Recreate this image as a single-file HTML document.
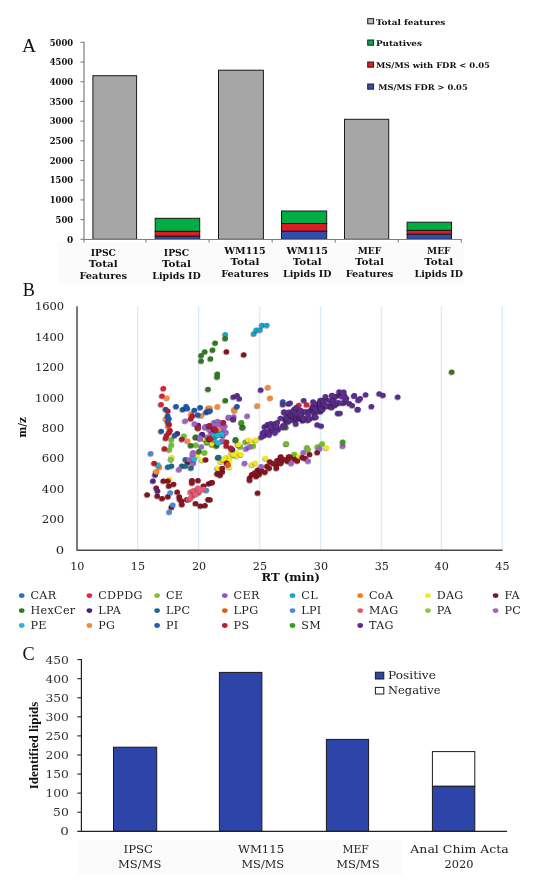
<!DOCTYPE html>
<html lang="en"><head><meta charset="utf-8"><title>Figure</title>
<style>
html,body{margin:0;padding:0;background:#fff;}
body{width:554px;height:881px;overflow:hidden;font-family:'DejaVu Serif','Liberation Serif',serif;}
svg{display:block;}
text{white-space:pre;}
.p{filter:url(#sh);}
</style></head><body>
<svg width="554" height="881" viewBox="0 0 554 881">
<rect width="554" height="881" fill="#fff"/>
<g id="panelA">
<rect x="58" y="242" width="406" height="42.2" fill="#fbfbfb"/>
<text x="22.1" y="51.6" font-size="18.2" font-family="'Liberation Serif','DejaVu Serif',serif" text-anchor="start" fill="#111" textLength="14.1" lengthAdjust="spacingAndGlyphs" >A</text>
<rect x="92.9" y="75.7" width="43.7" height="163.6" fill="#a6a6a6" stroke="#1a1a1a" stroke-width="1"/>
<rect x="155.2" y="218.3" width="44.5" height="13.1" fill="#00ad43" stroke="#1a1a1a" stroke-width="1"/>
<rect x="155.2" y="231.4" width="44.5" height="4.9" fill="#e01a22" stroke="#1a1a1a" stroke-width="1"/>
<rect x="155.2" y="236.3" width="44.5" height="3.0" fill="#324cad" stroke="#1a1a1a" stroke-width="1"/>
<rect x="218.5" y="70.2" width="44.9" height="169.1" fill="#a6a6a6" stroke="#1a1a1a" stroke-width="1"/>
<rect x="281.5" y="211.0" width="45.2" height="12.5" fill="#00ad43" stroke="#1a1a1a" stroke-width="1"/>
<rect x="281.5" y="223.5" width="45.2" height="7.8" fill="#e01a22" stroke="#1a1a1a" stroke-width="1"/>
<rect x="281.5" y="231.3" width="45.2" height="8.0" fill="#324cad" stroke="#1a1a1a" stroke-width="1"/>
<rect x="344.5" y="119.3" width="44.2" height="120.0" fill="#a6a6a6" stroke="#1a1a1a" stroke-width="1"/>
<rect x="407.1" y="222.2" width="44.4" height="8.2" fill="#00ad43" stroke="#1a1a1a" stroke-width="1"/>
<rect x="407.1" y="230.4" width="44.4" height="3.9" fill="#e01a22" stroke="#1a1a1a" stroke-width="1"/>
<rect x="407.1" y="234.3" width="44.4" height="5.0" fill="#324cad" stroke="#1a1a1a" stroke-width="1"/>
<path d="M84.0 41.8V239.5H461.8" fill="none" stroke="#808080" stroke-width="1.2"/>
<path d="M80.4 42.30H84.0" stroke="#808080" stroke-width="1.1"/>
<text x="73.1" y="45.5" font-size="8.4" font-family="'DejaVu Serif','Liberation Serif',serif" text-anchor="end" fill="#111" font-weight="bold" textLength="23.3" lengthAdjust="spacingAndGlyphs" >5000</text>
<path d="M80.4 62.00H84.0" stroke="#808080" stroke-width="1.1"/>
<text x="73.1" y="65.2" font-size="8.4" font-family="'DejaVu Serif','Liberation Serif',serif" text-anchor="end" fill="#111" font-weight="bold" textLength="23.3" lengthAdjust="spacingAndGlyphs" >4500</text>
<path d="M80.4 81.70H84.0" stroke="#808080" stroke-width="1.1"/>
<text x="73.1" y="84.9" font-size="8.4" font-family="'DejaVu Serif','Liberation Serif',serif" text-anchor="end" fill="#111" font-weight="bold" textLength="23.3" lengthAdjust="spacingAndGlyphs" >4000</text>
<path d="M80.4 101.40H84.0" stroke="#808080" stroke-width="1.1"/>
<text x="73.1" y="104.6" font-size="8.4" font-family="'DejaVu Serif','Liberation Serif',serif" text-anchor="end" fill="#111" font-weight="bold" textLength="23.3" lengthAdjust="spacingAndGlyphs" >3500</text>
<path d="M80.4 121.10H84.0" stroke="#808080" stroke-width="1.1"/>
<text x="73.1" y="124.3" font-size="8.4" font-family="'DejaVu Serif','Liberation Serif',serif" text-anchor="end" fill="#111" font-weight="bold" textLength="23.3" lengthAdjust="spacingAndGlyphs" >3000</text>
<path d="M80.4 140.80H84.0" stroke="#808080" stroke-width="1.1"/>
<text x="73.1" y="144.0" font-size="8.4" font-family="'DejaVu Serif','Liberation Serif',serif" text-anchor="end" fill="#111" font-weight="bold" textLength="23.3" lengthAdjust="spacingAndGlyphs" >2500</text>
<path d="M80.4 160.50H84.0" stroke="#808080" stroke-width="1.1"/>
<text x="73.1" y="163.7" font-size="8.4" font-family="'DejaVu Serif','Liberation Serif',serif" text-anchor="end" fill="#111" font-weight="bold" textLength="23.3" lengthAdjust="spacingAndGlyphs" >2000</text>
<path d="M80.4 180.20H84.0" stroke="#808080" stroke-width="1.1"/>
<text x="73.1" y="183.4" font-size="8.4" font-family="'DejaVu Serif','Liberation Serif',serif" text-anchor="end" fill="#111" font-weight="bold" textLength="23.3" lengthAdjust="spacingAndGlyphs" >1500</text>
<path d="M80.4 199.90H84.0" stroke="#808080" stroke-width="1.1"/>
<text x="73.1" y="203.1" font-size="8.4" font-family="'DejaVu Serif','Liberation Serif',serif" text-anchor="end" fill="#111" font-weight="bold" textLength="23.3" lengthAdjust="spacingAndGlyphs" >1000</text>
<path d="M80.4 219.60H84.0" stroke="#808080" stroke-width="1.1"/>
<text x="73.1" y="222.8" font-size="8.4" font-family="'DejaVu Serif','Liberation Serif',serif" text-anchor="end" fill="#111" font-weight="bold" textLength="17.5" lengthAdjust="spacingAndGlyphs" >500</text>
<path d="M80.4 239.30H84.0" stroke="#808080" stroke-width="1.1"/>
<text x="73.1" y="242.5" font-size="8.4" font-family="'DejaVu Serif','Liberation Serif',serif" text-anchor="end" fill="#111" font-weight="bold" textLength="6.2" lengthAdjust="spacingAndGlyphs" >0</text>
<path d="M84.00 239.3V242.5" stroke="#808080" stroke-width="1.1"/>
<path d="M146.05 239.3V242.5" stroke="#808080" stroke-width="1.1"/>
<path d="M209.10 239.3V242.5" stroke="#808080" stroke-width="1.1"/>
<path d="M272.15 239.3V242.5" stroke="#808080" stroke-width="1.1"/>
<path d="M335.20 239.3V242.5" stroke="#808080" stroke-width="1.1"/>
<path d="M398.25 239.3V242.5" stroke="#808080" stroke-width="1.1"/>
<path d="M461.30 239.3V242.5" stroke="#808080" stroke-width="1.1"/>
<text x="103.3" y="255.8" font-size="9.4" font-family="'DejaVu Serif','Liberation Serif',serif" text-anchor="middle" fill="#111" font-weight="bold" textLength="25.3" lengthAdjust="spacingAndGlyphs" >IPSC</text>
<text x="103.3" y="267.3" font-size="9.4" font-family="'DejaVu Serif','Liberation Serif',serif" text-anchor="middle" fill="#111" font-weight="bold" textLength="28.9" lengthAdjust="spacingAndGlyphs" >Total</text>
<text x="103.3" y="278.8" font-size="9.4" font-family="'DejaVu Serif','Liberation Serif',serif" text-anchor="middle" fill="#111" font-weight="bold" textLength="47.7" lengthAdjust="spacingAndGlyphs" >Features</text>
<text x="176.5" y="255.8" font-size="9.4" font-family="'DejaVu Serif','Liberation Serif',serif" text-anchor="middle" fill="#111" font-weight="bold" textLength="25.3" lengthAdjust="spacingAndGlyphs" >IPSC</text>
<text x="176.5" y="267.3" font-size="9.4" font-family="'DejaVu Serif','Liberation Serif',serif" text-anchor="middle" fill="#111" font-weight="bold" textLength="28.9" lengthAdjust="spacingAndGlyphs" >Total</text>
<text x="176.5" y="278.8" font-size="9.4" font-family="'DejaVu Serif','Liberation Serif',serif" text-anchor="middle" fill="#111" font-weight="bold" textLength="48.5" lengthAdjust="spacingAndGlyphs" >Lipids ID</text>
<text x="245.0" y="253.5" font-size="9.4" font-family="'DejaVu Serif','Liberation Serif',serif" text-anchor="middle" fill="#111" font-weight="bold" textLength="41.5" lengthAdjust="spacingAndGlyphs" >WM115</text>
<text x="245.0" y="265.1" font-size="9.4" font-family="'DejaVu Serif','Liberation Serif',serif" text-anchor="middle" fill="#111" font-weight="bold" textLength="28.9" lengthAdjust="spacingAndGlyphs" >Total</text>
<text x="245.0" y="276.8" font-size="9.4" font-family="'DejaVu Serif','Liberation Serif',serif" text-anchor="middle" fill="#111" font-weight="bold" textLength="47.7" lengthAdjust="spacingAndGlyphs" >Features</text>
<text x="307.3" y="253.5" font-size="9.4" font-family="'DejaVu Serif','Liberation Serif',serif" text-anchor="middle" fill="#111" font-weight="bold" textLength="41.5" lengthAdjust="spacingAndGlyphs" >WM115</text>
<text x="307.3" y="265.1" font-size="9.4" font-family="'DejaVu Serif','Liberation Serif',serif" text-anchor="middle" fill="#111" font-weight="bold" textLength="28.9" lengthAdjust="spacingAndGlyphs" >Total</text>
<text x="307.3" y="276.8" font-size="9.4" font-family="'DejaVu Serif','Liberation Serif',serif" text-anchor="middle" fill="#111" font-weight="bold" textLength="48.5" lengthAdjust="spacingAndGlyphs" >Lipids ID</text>
<text x="369.5" y="253.5" font-size="9.4" font-family="'DejaVu Serif','Liberation Serif',serif" text-anchor="middle" fill="#111" font-weight="bold" textLength="23.5" lengthAdjust="spacingAndGlyphs" >MEF</text>
<text x="369.5" y="265.1" font-size="9.4" font-family="'DejaVu Serif','Liberation Serif',serif" text-anchor="middle" fill="#111" font-weight="bold" textLength="28.9" lengthAdjust="spacingAndGlyphs" >Total</text>
<text x="369.5" y="276.8" font-size="9.4" font-family="'DejaVu Serif','Liberation Serif',serif" text-anchor="middle" fill="#111" font-weight="bold" textLength="47.7" lengthAdjust="spacingAndGlyphs" >Features</text>
<text x="438.8" y="253.5" font-size="9.4" font-family="'DejaVu Serif','Liberation Serif',serif" text-anchor="middle" fill="#111" font-weight="bold" textLength="23.5" lengthAdjust="spacingAndGlyphs" >MEF</text>
<text x="438.8" y="265.1" font-size="9.4" font-family="'DejaVu Serif','Liberation Serif',serif" text-anchor="middle" fill="#111" font-weight="bold" textLength="28.9" lengthAdjust="spacingAndGlyphs" >Total</text>
<text x="438.8" y="276.8" font-size="9.4" font-family="'DejaVu Serif','Liberation Serif',serif" text-anchor="middle" fill="#111" font-weight="bold" textLength="48.5" lengthAdjust="spacingAndGlyphs" >Lipids ID</text>
<rect x="367.7" y="18.6" width="5.9" height="5.2" fill="#bdb8c2" stroke="#222" stroke-width="1"/>
<text x="375.9" y="24.5" font-size="7.9" font-family="'DejaVu Serif','Liberation Serif',serif" text-anchor="start" fill="#111" font-weight="bold" textLength="69.5" lengthAdjust="spacingAndGlyphs" >Total features</text>
<rect x="367.7" y="40.0" width="5.9" height="5.2" fill="#00ad43" stroke="#222" stroke-width="1"/>
<text x="375.9" y="45.9" font-size="7.9" font-family="'DejaVu Serif','Liberation Serif',serif" text-anchor="start" fill="#111" font-weight="bold" textLength="46.0" lengthAdjust="spacingAndGlyphs" >Putatives</text>
<rect x="367.7" y="62.0" width="5.9" height="5.2" fill="#e01a22" stroke="#222" stroke-width="1"/>
<text x="375.9" y="67.9" font-size="7.9" font-family="'DejaVu Serif','Liberation Serif',serif" text-anchor="start" fill="#111" font-weight="bold" textLength="114.0" lengthAdjust="spacingAndGlyphs" >MS/MS with FDR &lt; 0.05</text>
<rect x="367.7" y="84.0" width="5.9" height="5.2" fill="#324cad" stroke="#222" stroke-width="1"/>
<text x="378.2" y="89.9" font-size="7.9" font-family="'DejaVu Serif','Liberation Serif',serif" text-anchor="start" fill="#111" font-weight="bold" textLength="89.5" lengthAdjust="spacingAndGlyphs" >MS/MS FDR &gt; 0.05</text>
</g>
<g id="panelB">
<text x="22.7" y="295.8" font-size="18.2" font-family="'Liberation Serif','DejaVu Serif',serif" text-anchor="start" fill="#111" >B</text>
<path d="M137.6 306.3V550" stroke="#d9ecf9" stroke-width="1.4"/>
<path d="M198.7 306.3V550" stroke="#d9ecf9" stroke-width="1.4"/>
<path d="M259.6 306.3V550" stroke="#d9ecf9" stroke-width="1.4"/>
<path d="M320.6 306.3V550" stroke="#d9ecf9" stroke-width="1.4"/>
<path d="M381.5 306.3V550" stroke="#d9ecf9" stroke-width="1.4"/>
<path d="M441.4 306.3V550" stroke="#d9ecf9" stroke-width="1.4"/>
<path d="M502.1 306.3V550" stroke="#d9ecf9" stroke-width="1.4"/>
<path d="M77.0 306.3V550.15H502.6" fill="none" stroke="#484848" stroke-width="1.45" stroke-linejoin="round"/>
<text x="64.2" y="310.2" font-size="10.8" font-family="'DejaVu Serif','Liberation Serif',serif" text-anchor="end" fill="#222" textLength="29.3" lengthAdjust="spacingAndGlyphs" >1600</text>
<text x="64.2" y="340.6" font-size="10.8" font-family="'DejaVu Serif','Liberation Serif',serif" text-anchor="end" fill="#222" textLength="29.3" lengthAdjust="spacingAndGlyphs" >1400</text>
<text x="64.2" y="371.1" font-size="10.8" font-family="'DejaVu Serif','Liberation Serif',serif" text-anchor="end" fill="#222" textLength="29.3" lengthAdjust="spacingAndGlyphs" >1200</text>
<text x="64.2" y="401.5" font-size="10.8" font-family="'DejaVu Serif','Liberation Serif',serif" text-anchor="end" fill="#222" textLength="29.3" lengthAdjust="spacingAndGlyphs" >1000</text>
<text x="64.2" y="432.0" font-size="10.8" font-family="'DejaVu Serif','Liberation Serif',serif" text-anchor="end" fill="#222" textLength="22.5" lengthAdjust="spacingAndGlyphs" >800</text>
<text x="64.2" y="462.4" font-size="10.8" font-family="'DejaVu Serif','Liberation Serif',serif" text-anchor="end" fill="#222" textLength="22.5" lengthAdjust="spacingAndGlyphs" >600</text>
<text x="64.2" y="492.9" font-size="10.8" font-family="'DejaVu Serif','Liberation Serif',serif" text-anchor="end" fill="#222" textLength="22.5" lengthAdjust="spacingAndGlyphs" >400</text>
<text x="64.2" y="523.3" font-size="10.8" font-family="'DejaVu Serif','Liberation Serif',serif" text-anchor="end" fill="#222" textLength="22.5" lengthAdjust="spacingAndGlyphs" >200</text>
<text x="64.2" y="553.8" font-size="10.8" font-family="'DejaVu Serif','Liberation Serif',serif" text-anchor="end" fill="#222" textLength="8.4" lengthAdjust="spacingAndGlyphs" >0</text>
<text x="77.3" y="570.0" font-size="10.8" font-family="'DejaVu Serif','Liberation Serif',serif" text-anchor="middle" fill="#222" textLength="14.2" lengthAdjust="spacingAndGlyphs" >10</text>
<text x="137.9" y="570.0" font-size="10.8" font-family="'DejaVu Serif','Liberation Serif',serif" text-anchor="middle" fill="#222" textLength="14.2" lengthAdjust="spacingAndGlyphs" >15</text>
<text x="199.0" y="570.0" font-size="10.8" font-family="'DejaVu Serif','Liberation Serif',serif" text-anchor="middle" fill="#222" textLength="14.2" lengthAdjust="spacingAndGlyphs" >20</text>
<text x="259.9" y="570.0" font-size="10.8" font-family="'DejaVu Serif','Liberation Serif',serif" text-anchor="middle" fill="#222" textLength="14.2" lengthAdjust="spacingAndGlyphs" >25</text>
<text x="320.9" y="570.0" font-size="10.8" font-family="'DejaVu Serif','Liberation Serif',serif" text-anchor="middle" fill="#222" textLength="14.2" lengthAdjust="spacingAndGlyphs" >30</text>
<text x="381.8" y="570.0" font-size="10.8" font-family="'DejaVu Serif','Liberation Serif',serif" text-anchor="middle" fill="#222" textLength="14.2" lengthAdjust="spacingAndGlyphs" >35</text>
<text x="441.7" y="570.0" font-size="10.8" font-family="'DejaVu Serif','Liberation Serif',serif" text-anchor="middle" fill="#222" textLength="14.2" lengthAdjust="spacingAndGlyphs" >40</text>
<text x="502.4" y="570.0" font-size="10.8" font-family="'DejaVu Serif','Liberation Serif',serif" text-anchor="middle" fill="#222" textLength="14.2" lengthAdjust="spacingAndGlyphs" >45</text>
<text x="0" y="0" font-size="10.5" font-family="'DejaVu Serif','Liberation Serif',serif" text-anchor="middle" fill="#111" font-weight="bold" textLength="20.4" lengthAdjust="spacingAndGlyphs" transform="translate(25.6,427.3) rotate(-90)">m/z</text>
<text x="261.6" y="581.4" font-size="11" font-family="'DejaVu Serif','Liberation Serif',serif" text-anchor="start" fill="#111" font-weight="bold" textLength="58.4" lengthAdjust="spacingAndGlyphs" >RT (min)</text>
<defs><filter id="sh" x="-40%" y="-40%" width="180%" height="180%"><feDropShadow dx="-0.4" dy="0.6" stdDeviation="0.45" flood-color="#2a1420" flood-opacity="0.7"/></filter></defs>
<g>
<ellipse class="p" cx="163.4" cy="388.4" rx="2.75" ry="2.5" fill="#d3243a"/>
<ellipse class="p" cx="162.1" cy="395.9" rx="2.75" ry="2.5" fill="#d3243a"/>
<ellipse class="p" cx="161.1" cy="404.5" rx="2.75" ry="2.5" fill="#d3243a"/>
<ellipse class="p" cx="321.9" cy="400.2" rx="2.75" ry="2.5" fill="#d3243a"/>
<ellipse class="p" cx="306.7" cy="404.8" rx="2.75" ry="2.5" fill="#d3243a"/>
<ellipse class="p" cx="298.8" cy="405.3" rx="2.75" ry="2.5" fill="#d3243a"/>
<ellipse class="p" cx="294.4" cy="408.9" rx="2.75" ry="2.5" fill="#d3243a"/>
<ellipse class="p" cx="289.4" cy="412.9" rx="2.75" ry="2.5" fill="#d3243a"/>
<ellipse class="p" cx="184.0" cy="436.1" rx="2.75" ry="2.5" fill="#6cc02c"/>
<ellipse class="p" cx="171.5" cy="439.4" rx="2.75" ry="2.5" fill="#6cc02c"/>
<ellipse class="p" cx="171.5" cy="444.9" rx="2.75" ry="2.5" fill="#6cc02c"/>
<ellipse class="p" cx="169.3" cy="449.8" rx="2.75" ry="2.5" fill="#6cc02c"/>
<ellipse class="p" cx="195.9" cy="444.9" rx="2.75" ry="2.5" fill="#6cc02c"/>
<ellipse class="p" cx="204.7" cy="452.4" rx="2.75" ry="2.5" fill="#6cc02c"/>
<ellipse class="p" cx="207.1" cy="442.3" rx="2.75" ry="2.5" fill="#6cc02c"/>
<ellipse class="p" cx="207.2" cy="442.0" rx="2.75" ry="2.5" fill="#6cc02c"/>
<ellipse class="p" cx="241.5" cy="422.9" rx="2.75" ry="2.5" fill="#6cc02c"/>
<ellipse class="p" cx="245.4" cy="442.0" rx="2.75" ry="2.5" fill="#6cc02c"/>
<ellipse class="p" cx="240.3" cy="446.7" rx="2.75" ry="2.5" fill="#6cc02c"/>
<ellipse class="p" cx="253.3" cy="445.9" rx="2.75" ry="2.5" fill="#6cc02c"/>
<ellipse class="p" cx="286.5" cy="443.8" rx="2.75" ry="2.5" fill="#6cc02c"/>
<ellipse class="p" cx="286.2" cy="443.8" rx="2.75" ry="2.5" fill="#6cc02c"/>
<ellipse class="p" cx="294.4" cy="454.3" rx="2.75" ry="2.5" fill="#6cc02c"/>
<ellipse class="p" cx="307.1" cy="447.4" rx="2.75" ry="2.5" fill="#6cc02c"/>
<ellipse class="p" cx="308.2" cy="449.8" rx="2.75" ry="2.5" fill="#6cc02c"/>
<ellipse class="p" cx="317.5" cy="446.7" rx="2.75" ry="2.5" fill="#6cc02c"/>
<ellipse class="p" cx="322.2" cy="443.8" rx="2.75" ry="2.5" fill="#6cc02c"/>
<ellipse class="p" cx="225.3" cy="334.4" rx="2.75" ry="2.5" fill="#17a5c8"/>
<ellipse class="p" cx="253.9" cy="333.7" rx="2.75" ry="2.5" fill="#17a5c8"/>
<ellipse class="p" cx="256.4" cy="330.1" rx="2.75" ry="2.5" fill="#17a5c8"/>
<ellipse class="p" cx="260.0" cy="330.1" rx="2.75" ry="2.5" fill="#17a5c8"/>
<ellipse class="p" cx="262.1" cy="325.3" rx="2.75" ry="2.5" fill="#17a5c8"/>
<ellipse class="p" cx="266.8" cy="325.3" rx="2.75" ry="2.5" fill="#17a5c8"/>
<ellipse class="p" cx="159.5" cy="466.9" rx="2.75" ry="2.5" fill="#f47b20"/>
<ellipse class="p" cx="204.3" cy="438.4" rx="2.75" ry="2.5" fill="#f2e81c"/>
<ellipse class="p" cx="212.2" cy="444.5" rx="2.75" ry="2.5" fill="#f2e81c"/>
<ellipse class="p" cx="196.8" cy="455.6" rx="2.75" ry="2.5" fill="#f2e81c"/>
<ellipse class="p" cx="202.1" cy="460.1" rx="2.75" ry="2.5" fill="#f2e81c"/>
<ellipse class="p" cx="171.8" cy="457.5" rx="2.75" ry="2.5" fill="#f2e81c"/>
<ellipse class="p" cx="218.0" cy="468.3" rx="2.75" ry="2.5" fill="#f2e81c"/>
<ellipse class="p" cx="169.6" cy="479.2" rx="2.75" ry="2.5" fill="#f2e81c"/>
<ellipse class="p" cx="204.0" cy="438.0" rx="2.75" ry="2.5" fill="#f2e81c"/>
<ellipse class="p" cx="212.6" cy="443.8" rx="2.75" ry="2.5" fill="#f2e81c"/>
<ellipse class="p" cx="238.3" cy="444.1" rx="2.75" ry="2.5" fill="#f2e81c"/>
<ellipse class="p" cx="248.3" cy="439.9" rx="2.75" ry="2.5" fill="#f2e81c"/>
<ellipse class="p" cx="251.9" cy="442.0" rx="2.75" ry="2.5" fill="#f2e81c"/>
<ellipse class="p" cx="255.9" cy="439.9" rx="2.75" ry="2.5" fill="#f2e81c"/>
<ellipse class="p" cx="238.2" cy="444.8" rx="2.75" ry="2.5" fill="#f2e81c"/>
<ellipse class="p" cx="231.7" cy="452.4" rx="2.75" ry="2.5" fill="#f2e81c"/>
<ellipse class="p" cx="236.0" cy="452.4" rx="2.75" ry="2.5" fill="#f2e81c"/>
<ellipse class="p" cx="236.7" cy="456.0" rx="2.75" ry="2.5" fill="#f2e81c"/>
<ellipse class="p" cx="241.0" cy="454.6" rx="2.75" ry="2.5" fill="#f2e81c"/>
<ellipse class="p" cx="225.9" cy="457.5" rx="2.75" ry="2.5" fill="#f2e81c"/>
<ellipse class="p" cx="230.2" cy="456.8" rx="2.75" ry="2.5" fill="#f2e81c"/>
<ellipse class="p" cx="220.8" cy="461.4" rx="2.75" ry="2.5" fill="#f2e81c"/>
<ellipse class="p" cx="228.8" cy="461.1" rx="2.75" ry="2.5" fill="#f2e81c"/>
<ellipse class="p" cx="217.9" cy="468.3" rx="2.75" ry="2.5" fill="#f2e81c"/>
<ellipse class="p" cx="229.5" cy="466.9" rx="2.75" ry="2.5" fill="#f2e81c"/>
<ellipse class="p" cx="251.9" cy="464.7" rx="2.75" ry="2.5" fill="#f2e81c"/>
<ellipse class="p" cx="255.5" cy="463.0" rx="2.75" ry="2.5" fill="#f2e81c"/>
<ellipse class="p" cx="265.6" cy="458.2" rx="2.75" ry="2.5" fill="#f2e81c"/>
<ellipse class="p" cx="233.5" cy="454.5" rx="2.75" ry="2.5" fill="#f2e81c"/>
<ellipse class="p" cx="223.5" cy="459.5" rx="2.75" ry="2.5" fill="#f2e81c"/>
<ellipse class="p" cx="326.5" cy="447.8" rx="2.75" ry="2.5" fill="#f2e81c"/>
<ellipse class="p" cx="298.8" cy="456.5" rx="2.75" ry="2.5" fill="#f2e81c"/>
<ellipse class="p" cx="205.7" cy="459.7" rx="2.75" ry="2.5" fill="#84141f"/>
<ellipse class="p" cx="187.7" cy="462.8" rx="2.75" ry="2.5" fill="#84141f"/>
<ellipse class="p" cx="147.2" cy="494.8" rx="2.75" ry="2.5" fill="#84141f"/>
<ellipse class="p" cx="156.3" cy="488.1" rx="2.75" ry="2.5" fill="#84141f"/>
<ellipse class="p" cx="157.3" cy="496.0" rx="2.75" ry="2.5" fill="#84141f"/>
<ellipse class="p" cx="162.1" cy="498.4" rx="2.75" ry="2.5" fill="#84141f"/>
<ellipse class="p" cx="163.4" cy="481.1" rx="2.75" ry="2.5" fill="#84141f"/>
<ellipse class="p" cx="167.9" cy="481.1" rx="2.75" ry="2.5" fill="#84141f"/>
<ellipse class="p" cx="168.9" cy="485.9" rx="2.75" ry="2.5" fill="#84141f"/>
<ellipse class="p" cx="173.6" cy="484.2" rx="2.75" ry="2.5" fill="#84141f"/>
<ellipse class="p" cx="167.9" cy="496.7" rx="2.75" ry="2.5" fill="#84141f"/>
<ellipse class="p" cx="177.3" cy="492.0" rx="2.75" ry="2.5" fill="#84141f"/>
<ellipse class="p" cx="179.3" cy="496.7" rx="2.75" ry="2.5" fill="#84141f"/>
<ellipse class="p" cx="179.7" cy="498.9" rx="2.75" ry="2.5" fill="#84141f"/>
<ellipse class="p" cx="181.4" cy="501.0" rx="2.75" ry="2.5" fill="#84141f"/>
<ellipse class="p" cx="181.9" cy="504.4" rx="2.75" ry="2.5" fill="#84141f"/>
<ellipse class="p" cx="171.5" cy="507.3" rx="2.75" ry="2.5" fill="#84141f"/>
<ellipse class="p" cx="192.0" cy="480.4" rx="2.75" ry="2.5" fill="#84141f"/>
<ellipse class="p" cx="198.0" cy="480.4" rx="2.75" ry="2.5" fill="#84141f"/>
<ellipse class="p" cx="192.0" cy="483.0" rx="2.75" ry="2.5" fill="#84141f"/>
<ellipse class="p" cx="203.5" cy="485.9" rx="2.75" ry="2.5" fill="#84141f"/>
<ellipse class="p" cx="208.6" cy="483.7" rx="2.75" ry="2.5" fill="#84141f"/>
<ellipse class="p" cx="211.5" cy="482.6" rx="2.75" ry="2.5" fill="#84141f"/>
<ellipse class="p" cx="208.2" cy="499.6" rx="2.75" ry="2.5" fill="#84141f"/>
<ellipse class="p" cx="195.6" cy="503.6" rx="2.75" ry="2.5" fill="#84141f"/>
<ellipse class="p" cx="200.4" cy="506.1" rx="2.75" ry="2.5" fill="#84141f"/>
<ellipse class="p" cx="205.0" cy="505.4" rx="2.75" ry="2.5" fill="#84141f"/>
<ellipse class="p" cx="186.9" cy="499.6" rx="2.75" ry="2.5" fill="#84141f"/>
<ellipse class="p" cx="218.0" cy="473.6" rx="2.75" ry="2.5" fill="#84141f"/>
<ellipse class="p" cx="257.7" cy="492.9" rx="2.75" ry="2.5" fill="#84141f"/>
<ellipse class="p" cx="249.7" cy="478.0" rx="2.75" ry="2.5" fill="#84141f"/>
<ellipse class="p" cx="249.7" cy="480.2" rx="2.75" ry="2.5" fill="#84141f"/>
<ellipse class="p" cx="251.9" cy="474.4" rx="2.75" ry="2.5" fill="#84141f"/>
<ellipse class="p" cx="256.2" cy="476.6" rx="2.75" ry="2.5" fill="#84141f"/>
<ellipse class="p" cx="259.1" cy="474.4" rx="2.75" ry="2.5" fill="#84141f"/>
<ellipse class="p" cx="257.7" cy="470.1" rx="2.75" ry="2.5" fill="#84141f"/>
<ellipse class="p" cx="260.5" cy="470.1" rx="2.75" ry="2.5" fill="#84141f"/>
<ellipse class="p" cx="264.9" cy="472.3" rx="2.75" ry="2.5" fill="#84141f"/>
<ellipse class="p" cx="212.2" cy="482.4" rx="2.75" ry="2.5" fill="#84141f"/>
<ellipse class="p" cx="210.0" cy="499.7" rx="2.75" ry="2.5" fill="#84141f"/>
<ellipse class="p" cx="217.2" cy="473.7" rx="2.75" ry="2.5" fill="#84141f"/>
<ellipse class="p" cx="220.1" cy="475.2" rx="2.75" ry="2.5" fill="#84141f"/>
<ellipse class="p" cx="222.3" cy="471.9" rx="2.75" ry="2.5" fill="#84141f"/>
<ellipse class="p" cx="222.3" cy="468.3" rx="2.75" ry="2.5" fill="#84141f"/>
<ellipse class="p" cx="226.6" cy="463.0" rx="2.75" ry="2.5" fill="#84141f"/>
<ellipse class="p" cx="280.8" cy="456.8" rx="2.75" ry="2.5" fill="#84141f"/>
<ellipse class="p" cx="288.7" cy="456.8" rx="2.75" ry="2.5" fill="#84141f"/>
<ellipse class="p" cx="277.1" cy="460.4" rx="2.75" ry="2.5" fill="#84141f"/>
<ellipse class="p" cx="269.9" cy="461.8" rx="2.75" ry="2.5" fill="#84141f"/>
<ellipse class="p" cx="280.8" cy="462.8" rx="2.75" ry="2.5" fill="#84141f"/>
<ellipse class="p" cx="288.0" cy="460.8" rx="2.75" ry="2.5" fill="#84141f"/>
<ellipse class="p" cx="267.0" cy="466.2" rx="2.75" ry="2.5" fill="#84141f"/>
<ellipse class="p" cx="276.4" cy="465.1" rx="2.75" ry="2.5" fill="#84141f"/>
<ellipse class="p" cx="276.4" cy="468.3" rx="2.75" ry="2.5" fill="#84141f"/>
<ellipse class="p" cx="269.2" cy="468.3" rx="2.75" ry="2.5" fill="#84141f"/>
<ellipse class="p" cx="261.3" cy="470.5" rx="2.75" ry="2.5" fill="#84141f"/>
<ellipse class="p" cx="254.8" cy="472.7" rx="2.75" ry="2.5" fill="#84141f"/>
<ellipse class="p" cx="317.3" cy="452.4" rx="2.75" ry="2.5" fill="#84141f"/>
<ellipse class="p" cx="309.6" cy="454.6" rx="2.75" ry="2.5" fill="#84141f"/>
<ellipse class="p" cx="302.4" cy="457.5" rx="2.75" ry="2.5" fill="#84141f"/>
<ellipse class="p" cx="305.3" cy="458.5" rx="2.75" ry="2.5" fill="#84141f"/>
<ellipse class="p" cx="290.1" cy="457.1" rx="2.75" ry="2.5" fill="#84141f"/>
<ellipse class="p" cx="294.4" cy="459.2" rx="2.75" ry="2.5" fill="#84141f"/>
<ellipse class="p" cx="297.3" cy="461.1" rx="2.75" ry="2.5" fill="#84141f"/>
<ellipse class="p" cx="287.5" cy="461.1" rx="2.75" ry="2.5" fill="#84141f"/>
<ellipse class="p" cx="280.7" cy="457.5" rx="2.75" ry="2.5" fill="#84141f"/>
<ellipse class="p" cx="280.7" cy="463.3" rx="2.75" ry="2.5" fill="#84141f"/>
<ellipse class="p" cx="284.0" cy="459.5" rx="2.75" ry="2.5" fill="#84141f"/>
<ellipse class="p" cx="273.0" cy="463.5" rx="2.75" ry="2.5" fill="#84141f"/>
<ellipse class="p" cx="226.5" cy="351.8" rx="2.75" ry="2.5" fill="#84141f"/>
<ellipse class="p" cx="243.8" cy="354.7" rx="2.75" ry="2.5" fill="#84141f"/>
<ellipse class="p" cx="225.3" cy="338.5" rx="2.75" ry="2.5" fill="#2f7a1e"/>
<ellipse class="p" cx="215.2" cy="343.1" rx="2.75" ry="2.5" fill="#2f7a1e"/>
<ellipse class="p" cx="212.6" cy="350.0" rx="2.75" ry="2.5" fill="#2f7a1e"/>
<ellipse class="p" cx="204.8" cy="351.8" rx="2.75" ry="2.5" fill="#2f7a1e"/>
<ellipse class="p" cx="201.2" cy="355.4" rx="2.75" ry="2.5" fill="#2f7a1e"/>
<ellipse class="p" cx="210.5" cy="358.7" rx="2.75" ry="2.5" fill="#2f7a1e"/>
<ellipse class="p" cx="201.2" cy="360.9" rx="2.75" ry="2.5" fill="#2f7a1e"/>
<ellipse class="p" cx="217.4" cy="373.9" rx="2.75" ry="2.5" fill="#2f7a1e"/>
<ellipse class="p" cx="217.2" cy="377.0" rx="2.75" ry="2.5" fill="#2f7a1e"/>
<ellipse class="p" cx="208.1" cy="389.3" rx="2.75" ry="2.5" fill="#2f7a1e"/>
<ellipse class="p" cx="225.4" cy="400.6" rx="2.75" ry="2.5" fill="#2f7a1e"/>
<ellipse class="p" cx="242.8" cy="427.3" rx="2.75" ry="2.5" fill="#2f7a1e"/>
<ellipse class="p" cx="269.9" cy="425.5" rx="2.75" ry="2.5" fill="#2f7a1e"/>
<ellipse class="p" cx="285.8" cy="427.6" rx="2.75" ry="2.5" fill="#2f7a1e"/>
<ellipse class="p" cx="195.6" cy="437.3" rx="2.75" ry="2.5" fill="#2f7a1e"/>
<ellipse class="p" cx="190.8" cy="445.6" rx="2.75" ry="2.5" fill="#2f7a1e"/>
<ellipse class="p" cx="198.9" cy="451.4" rx="2.75" ry="2.5" fill="#2f7a1e"/>
<ellipse class="p" cx="235.7" cy="439.4" rx="2.75" ry="2.5" fill="#2f7a1e"/>
<ellipse class="p" cx="216.5" cy="445.9" rx="2.75" ry="2.5" fill="#2f7a1e"/>
<ellipse class="p" cx="242.4" cy="427.6" rx="2.75" ry="2.5" fill="#2f7a1e"/>
<ellipse class="p" cx="235.6" cy="440.2" rx="2.75" ry="2.5" fill="#2f7a1e"/>
<ellipse class="p" cx="195.9" cy="437.1" rx="2.75" ry="2.5" fill="#2f7a1e"/>
<ellipse class="p" cx="451.8" cy="372.1" rx="2.75" ry="2.5" fill="#2f7a1e"/>
<ellipse class="p" cx="155.2" cy="475.1" rx="2.75" ry="2.5" fill="#4b2585"/>
<ellipse class="p" cx="153.0" cy="481.1" rx="2.75" ry="2.5" fill="#4b2585"/>
<ellipse class="p" cx="157.6" cy="490.9" rx="2.75" ry="2.5" fill="#4b2585"/>
<ellipse class="p" cx="198.2" cy="425.3" rx="2.75" ry="2.5" fill="#4b2585"/>
<ellipse class="p" cx="202.2" cy="434.4" rx="2.75" ry="2.5" fill="#4b2585"/>
<ellipse class="p" cx="177.3" cy="433.4" rx="2.75" ry="2.5" fill="#4b2585"/>
<ellipse class="p" cx="202.4" cy="434.4" rx="2.75" ry="2.5" fill="#4b2585"/>
<ellipse class="p" cx="197.8" cy="426.4" rx="2.75" ry="2.5" fill="#4b2585"/>
<ellipse class="p" cx="232.4" cy="449.5" rx="2.75" ry="2.5" fill="#4b2585"/>
<ellipse class="p" cx="185.5" cy="459.4" rx="2.75" ry="2.5" fill="#176c8a"/>
<ellipse class="p" cx="171.5" cy="465.9" rx="2.75" ry="2.5" fill="#176c8a"/>
<ellipse class="p" cx="167.9" cy="466.9" rx="2.75" ry="2.5" fill="#176c8a"/>
<ellipse class="p" cx="181.9" cy="465.9" rx="2.75" ry="2.5" fill="#176c8a"/>
<ellipse class="p" cx="185.5" cy="465.9" rx="2.75" ry="2.5" fill="#176c8a"/>
<ellipse class="p" cx="191.0" cy="467.9" rx="2.75" ry="2.5" fill="#176c8a"/>
<ellipse class="p" cx="218.0" cy="457.5" rx="2.75" ry="2.5" fill="#176c8a"/>
<ellipse class="p" cx="218.7" cy="457.2" rx="2.75" ry="2.5" fill="#176c8a"/>
<ellipse class="p" cx="156.3" cy="471.7" rx="2.75" ry="2.5" fill="#e3561a"/>
<ellipse class="p" cx="228.0" cy="464.7" rx="2.75" ry="2.5" fill="#e3561a"/>
<ellipse class="p" cx="150.8" cy="453.4" rx="2.75" ry="2.5" fill="#4a8ad8"/>
<ellipse class="p" cx="170.3" cy="492.7" rx="2.75" ry="2.5" fill="#4a8ad8"/>
<ellipse class="p" cx="172.8" cy="505.1" rx="2.75" ry="2.5" fill="#4a8ad8"/>
<ellipse class="p" cx="169.3" cy="511.9" rx="2.75" ry="2.5" fill="#4a8ad8"/>
<ellipse class="p" cx="206.4" cy="490.2" rx="2.75" ry="2.5" fill="#4a8ad8"/>
<ellipse class="p" cx="190.5" cy="491.9" rx="2.75" ry="2.5" fill="#ec5a74"/>
<ellipse class="p" cx="193.4" cy="490.6" rx="2.75" ry="2.5" fill="#ec5a74"/>
<ellipse class="p" cx="197.8" cy="488.1" rx="2.75" ry="2.5" fill="#ec5a74"/>
<ellipse class="p" cx="203.5" cy="489.1" rx="2.75" ry="2.5" fill="#ec5a74"/>
<ellipse class="p" cx="198.5" cy="492.7" rx="2.75" ry="2.5" fill="#ec5a74"/>
<ellipse class="p" cx="192.0" cy="496.4" rx="2.75" ry="2.5" fill="#ec5a74"/>
<ellipse class="p" cx="188.4" cy="499.6" rx="2.75" ry="2.5" fill="#ec5a74"/>
<ellipse class="p" cx="190.5" cy="498.4" rx="2.75" ry="2.5" fill="#ec5a74"/>
<ellipse class="p" cx="199.9" cy="490.9" rx="2.75" ry="2.5" fill="#ec5a74"/>
<ellipse class="p" cx="195.5" cy="494.5" rx="2.75" ry="2.5" fill="#ec5a74"/>
<ellipse class="p" cx="171.0" cy="459.4" rx="2.75" ry="2.5" fill="#7cc544"/>
<ellipse class="p" cx="205.8" cy="426.7" rx="2.75" ry="2.5" fill="#9c62c8"/>
<ellipse class="p" cx="214.0" cy="422.6" rx="2.75" ry="2.5" fill="#9c62c8"/>
<ellipse class="p" cx="217.6" cy="421.3" rx="2.75" ry="2.5" fill="#9c62c8"/>
<ellipse class="p" cx="221.2" cy="422.6" rx="2.75" ry="2.5" fill="#9c62c8"/>
<ellipse class="p" cx="224.8" cy="426.2" rx="2.75" ry="2.5" fill="#9c62c8"/>
<ellipse class="p" cx="223.9" cy="430.8" rx="2.75" ry="2.5" fill="#9c62c8"/>
<ellipse class="p" cx="212.1" cy="431.7" rx="2.75" ry="2.5" fill="#9c62c8"/>
<ellipse class="p" cx="211.2" cy="433.9" rx="2.75" ry="2.5" fill="#9c62c8"/>
<ellipse class="p" cx="223.0" cy="435.7" rx="2.75" ry="2.5" fill="#9c62c8"/>
<ellipse class="p" cx="215.8" cy="424.9" rx="2.75" ry="2.5" fill="#9c62c8"/>
<ellipse class="p" cx="219.4" cy="425.3" rx="2.75" ry="2.5" fill="#9c62c8"/>
<ellipse class="p" cx="222.1" cy="441.1" rx="2.75" ry="2.5" fill="#9c62c8"/>
<ellipse class="p" cx="200.0" cy="438.0" rx="2.75" ry="2.5" fill="#9c62c8"/>
<ellipse class="p" cx="207.6" cy="437.1" rx="2.75" ry="2.5" fill="#9c62c8"/>
<ellipse class="p" cx="228.8" cy="417.2" rx="2.75" ry="2.5" fill="#9c62c8"/>
<ellipse class="p" cx="233.8" cy="416.8" rx="2.75" ry="2.5" fill="#9c62c8"/>
<ellipse class="p" cx="185.2" cy="420.9" rx="2.75" ry="2.5" fill="#9c62c8"/>
<ellipse class="p" cx="194.6" cy="423.8" rx="2.75" ry="2.5" fill="#9c62c8"/>
<ellipse class="p" cx="205.7" cy="426.6" rx="2.75" ry="2.5" fill="#9c62c8"/>
<ellipse class="p" cx="247.3" cy="416.1" rx="2.75" ry="2.5" fill="#9c62c8"/>
<ellipse class="p" cx="228.8" cy="417.3" rx="2.75" ry="2.5" fill="#9c62c8"/>
<ellipse class="p" cx="199.9" cy="438.4" rx="2.75" ry="2.5" fill="#9c62c8"/>
<ellipse class="p" cx="201.4" cy="446.7" rx="2.75" ry="2.5" fill="#9c62c8"/>
<ellipse class="p" cx="193.1" cy="452.4" rx="2.75" ry="2.5" fill="#9c62c8"/>
<ellipse class="p" cx="192.7" cy="455.3" rx="2.75" ry="2.5" fill="#9c62c8"/>
<ellipse class="p" cx="189.1" cy="459.7" rx="2.75" ry="2.5" fill="#9c62c8"/>
<ellipse class="p" cx="193.4" cy="463.3" rx="2.75" ry="2.5" fill="#9c62c8"/>
<ellipse class="p" cx="179.0" cy="469.5" rx="2.75" ry="2.5" fill="#9c62c8"/>
<ellipse class="p" cx="205.0" cy="427.2" rx="2.75" ry="2.5" fill="#9c62c8"/>
<ellipse class="p" cx="223.0" cy="440.9" rx="2.75" ry="2.5" fill="#9c62c8"/>
<ellipse class="p" cx="246.1" cy="448.8" rx="2.75" ry="2.5" fill="#9c62c8"/>
<ellipse class="p" cx="249.7" cy="446.7" rx="2.75" ry="2.5" fill="#9c62c8"/>
<ellipse class="p" cx="244.7" cy="463.3" rx="2.75" ry="2.5" fill="#9c62c8"/>
<ellipse class="p" cx="261.3" cy="466.6" rx="2.75" ry="2.5" fill="#9c62c8"/>
<ellipse class="p" cx="216.0" cy="428.0" rx="2.75" ry="2.5" fill="#9c62c8"/>
<ellipse class="p" cx="219.0" cy="431.0" rx="2.75" ry="2.5" fill="#9c62c8"/>
<ellipse class="p" cx="213.0" cy="427.0" rx="2.75" ry="2.5" fill="#9c62c8"/>
<ellipse class="p" cx="221.0" cy="428.5" rx="2.75" ry="2.5" fill="#9c62c8"/>
<ellipse class="p" cx="217.0" cy="433.0" rx="2.75" ry="2.5" fill="#9c62c8"/>
<ellipse class="p" cx="209.5" cy="429.5" rx="2.75" ry="2.5" fill="#9c62c8"/>
<ellipse class="p" cx="226.0" cy="432.5" rx="2.75" ry="2.5" fill="#9c62c8"/>
<ellipse class="p" cx="214.5" cy="425.5" rx="2.75" ry="2.5" fill="#9c62c8"/>
<ellipse class="p" cx="303.5" cy="452.4" rx="2.75" ry="2.5" fill="#9c62c8"/>
<ellipse class="p" cx="319.7" cy="448.8" rx="2.75" ry="2.5" fill="#9c62c8"/>
<ellipse class="p" cx="342.8" cy="445.9" rx="2.75" ry="2.5" fill="#9c62c8"/>
<ellipse class="p" cx="308.2" cy="461.1" rx="2.75" ry="2.5" fill="#9c62c8"/>
<ellipse class="p" cx="291.3" cy="463.3" rx="2.75" ry="2.5" fill="#9c62c8"/>
<ellipse class="p" cx="214.3" cy="435.8" rx="2.75" ry="2.5" fill="#22b4d4"/>
<ellipse class="p" cx="217.9" cy="434.4" rx="2.75" ry="2.5" fill="#22b4d4"/>
<ellipse class="p" cx="221.6" cy="434.4" rx="2.75" ry="2.5" fill="#22b4d4"/>
<ellipse class="p" cx="214.3" cy="439.4" rx="2.75" ry="2.5" fill="#22b4d4"/>
<ellipse class="p" cx="217.9" cy="443.0" rx="2.75" ry="2.5" fill="#22b4d4"/>
<ellipse class="p" cx="219.4" cy="433.0" rx="2.75" ry="2.5" fill="#22b4d4"/>
<ellipse class="p" cx="214.4" cy="436.2" rx="2.75" ry="2.5" fill="#22b4d4"/>
<ellipse class="p" cx="217.6" cy="435.3" rx="2.75" ry="2.5" fill="#22b4d4"/>
<ellipse class="p" cx="194.2" cy="459.2" rx="2.75" ry="2.5" fill="#22b4d4"/>
<ellipse class="p" cx="158.0" cy="464.7" rx="2.75" ry="2.5" fill="#22b4d4"/>
<ellipse class="p" cx="218.0" cy="443.0" rx="2.75" ry="2.5" fill="#22b4d4"/>
<ellipse class="p" cx="166.9" cy="398.1" rx="2.75" ry="2.5" fill="#f58a3a"/>
<ellipse class="p" cx="208.2" cy="407.9" rx="2.75" ry="2.5" fill="#f58a3a"/>
<ellipse class="p" cx="217.6" cy="406.4" rx="2.75" ry="2.5" fill="#f58a3a"/>
<ellipse class="p" cx="191.3" cy="413.9" rx="2.75" ry="2.5" fill="#f58a3a"/>
<ellipse class="p" cx="201.4" cy="415.4" rx="2.75" ry="2.5" fill="#f58a3a"/>
<ellipse class="p" cx="166.0" cy="418.7" rx="2.75" ry="2.5" fill="#f58a3a"/>
<ellipse class="p" cx="168.2" cy="426.2" rx="2.75" ry="2.5" fill="#f58a3a"/>
<ellipse class="p" cx="268.0" cy="387.2" rx="2.75" ry="2.5" fill="#f58a3a"/>
<ellipse class="p" cx="270.2" cy="398.0" rx="2.75" ry="2.5" fill="#f58a3a"/>
<ellipse class="p" cx="257.4" cy="405.7" rx="2.75" ry="2.5" fill="#f58a3a"/>
<ellipse class="p" cx="234.5" cy="409.3" rx="2.75" ry="2.5" fill="#f58a3a"/>
<ellipse class="p" cx="210.0" cy="408.0" rx="2.75" ry="2.5" fill="#f58a3a"/>
<ellipse class="p" cx="187.7" cy="440.9" rx="2.75" ry="2.5" fill="#f58a3a"/>
<ellipse class="p" cx="156.3" cy="471.9" rx="2.75" ry="2.5" fill="#f58a3a"/>
<ellipse class="p" cx="218.3" cy="429.2" rx="2.75" ry="2.5" fill="#f58a3a"/>
<ellipse class="p" cx="234.7" cy="410.5" rx="2.75" ry="2.5" fill="#f58a3a"/>
<ellipse class="p" cx="176.1" cy="406.4" rx="2.75" ry="2.5" fill="#1b58a8"/>
<ellipse class="p" cx="165.6" cy="409.3" rx="2.75" ry="2.5" fill="#1b58a8"/>
<ellipse class="p" cx="182.7" cy="409.6" rx="2.75" ry="2.5" fill="#1b58a8"/>
<ellipse class="p" cx="186.2" cy="406.4" rx="2.75" ry="2.5" fill="#1b58a8"/>
<ellipse class="p" cx="187.4" cy="408.4" rx="2.75" ry="2.5" fill="#1b58a8"/>
<ellipse class="p" cx="194.4" cy="410.3" rx="2.75" ry="2.5" fill="#1b58a8"/>
<ellipse class="p" cx="200.2" cy="407.4" rx="2.75" ry="2.5" fill="#1b58a8"/>
<ellipse class="p" cx="197.8" cy="415.1" rx="2.75" ry="2.5" fill="#1b58a8"/>
<ellipse class="p" cx="206.1" cy="412.2" rx="2.75" ry="2.5" fill="#1b58a8"/>
<ellipse class="p" cx="208.4" cy="411.3" rx="2.75" ry="2.5" fill="#1b58a8"/>
<ellipse class="p" cx="167.7" cy="416.1" rx="2.75" ry="2.5" fill="#1b58a8"/>
<ellipse class="p" cx="168.9" cy="418.7" rx="2.75" ry="2.5" fill="#1b58a8"/>
<ellipse class="p" cx="167.9" cy="421.9" rx="2.75" ry="2.5" fill="#1b58a8"/>
<ellipse class="p" cx="161.2" cy="431.3" rx="2.75" ry="2.5" fill="#1b58a8"/>
<ellipse class="p" cx="174.7" cy="435.5" rx="2.75" ry="2.5" fill="#1b58a8"/>
<ellipse class="p" cx="237.0" cy="406.4" rx="2.75" ry="2.5" fill="#1b58a8"/>
<ellipse class="p" cx="282.9" cy="401.7" rx="2.75" ry="2.5" fill="#1b58a8"/>
<ellipse class="p" cx="210.0" cy="411.0" rx="2.75" ry="2.5" fill="#1b58a8"/>
<ellipse class="p" cx="167.9" cy="411.0" rx="2.75" ry="2.5" fill="#b01c2a"/>
<ellipse class="p" cx="192.3" cy="416.1" rx="2.75" ry="2.5" fill="#b01c2a"/>
<ellipse class="p" cx="190.8" cy="418.7" rx="2.75" ry="2.5" fill="#b01c2a"/>
<ellipse class="p" cx="169.2" cy="424.5" rx="2.75" ry="2.5" fill="#b01c2a"/>
<ellipse class="p" cx="170.0" cy="430.5" rx="2.75" ry="2.5" fill="#b01c2a"/>
<ellipse class="p" cx="168.9" cy="432.7" rx="2.75" ry="2.5" fill="#b01c2a"/>
<ellipse class="p" cx="209.3" cy="425.9" rx="2.75" ry="2.5" fill="#b01c2a"/>
<ellipse class="p" cx="214.4" cy="429.1" rx="2.75" ry="2.5" fill="#b01c2a"/>
<ellipse class="p" cx="198.0" cy="427.9" rx="2.75" ry="2.5" fill="#b01c2a"/>
<ellipse class="p" cx="166.7" cy="435.4" rx="2.75" ry="2.5" fill="#b01c2a"/>
<ellipse class="p" cx="165.7" cy="438.3" rx="2.75" ry="2.5" fill="#b01c2a"/>
<ellipse class="p" cx="181.9" cy="439.2" rx="2.75" ry="2.5" fill="#b01c2a"/>
<ellipse class="p" cx="164.5" cy="448.8" rx="2.75" ry="2.5" fill="#b01c2a"/>
<ellipse class="p" cx="154.2" cy="463.3" rx="2.75" ry="2.5" fill="#b01c2a"/>
<ellipse class="p" cx="209.3" cy="438.7" rx="2.75" ry="2.5" fill="#b01c2a"/>
<ellipse class="p" cx="223.4" cy="422.6" rx="2.75" ry="2.5" fill="#b01c2a"/>
<ellipse class="p" cx="209.4" cy="425.5" rx="2.75" ry="2.5" fill="#b01c2a"/>
<ellipse class="p" cx="214.0" cy="429.0" rx="2.75" ry="2.5" fill="#b01c2a"/>
<ellipse class="p" cx="215.8" cy="429.9" rx="2.75" ry="2.5" fill="#b01c2a"/>
<ellipse class="p" cx="198.2" cy="428.0" rx="2.75" ry="2.5" fill="#b01c2a"/>
<ellipse class="p" cx="209.4" cy="438.9" rx="2.75" ry="2.5" fill="#b01c2a"/>
<ellipse class="p" cx="226.6" cy="442.0" rx="2.75" ry="2.5" fill="#b01c2a"/>
<ellipse class="p" cx="226.3" cy="445.9" rx="2.75" ry="2.5" fill="#b01c2a"/>
<ellipse class="p" cx="230.9" cy="448.1" rx="2.75" ry="2.5" fill="#b01c2a"/>
<ellipse class="p" cx="210.7" cy="438.7" rx="2.75" ry="2.5" fill="#b01c2a"/>
<ellipse class="p" cx="288.7" cy="413.2" rx="2.75" ry="2.5" fill="#b01c2a"/>
<ellipse class="p" cx="241.5" cy="422.6" rx="2.75" ry="2.5" fill="#3f9a1e"/>
<ellipse class="p" cx="342.8" cy="442.0" rx="2.75" ry="2.5" fill="#3f9a1e"/>
<ellipse class="p" cx="264.0" cy="435.6" rx="2.75" ry="2.5" fill="#5a2d8c"/>
<ellipse class="p" cx="264.0" cy="435.1" rx="2.75" ry="2.5" fill="#5a2d8c"/>
<ellipse class="p" cx="264.2" cy="432.1" rx="2.75" ry="2.5" fill="#5a2d8c"/>
<ellipse class="p" cx="264.5" cy="426.8" rx="2.75" ry="2.5" fill="#5a2d8c"/>
<ellipse class="p" cx="265.2" cy="431.5" rx="2.75" ry="2.5" fill="#5a2d8c"/>
<ellipse class="p" cx="267.5" cy="424.5" rx="2.75" ry="2.5" fill="#5a2d8c"/>
<ellipse class="p" cx="269.5" cy="431.2" rx="2.75" ry="2.5" fill="#5a2d8c"/>
<ellipse class="p" cx="269.8" cy="424.8" rx="2.75" ry="2.5" fill="#5a2d8c"/>
<ellipse class="p" cx="270.7" cy="423.6" rx="2.75" ry="2.5" fill="#5a2d8c"/>
<ellipse class="p" cx="270.8" cy="427.4" rx="2.75" ry="2.5" fill="#5a2d8c"/>
<ellipse class="p" cx="271.8" cy="426.6" rx="2.75" ry="2.5" fill="#5a2d8c"/>
<ellipse class="p" cx="272.8" cy="430.4" rx="2.75" ry="2.5" fill="#5a2d8c"/>
<ellipse class="p" cx="274.9" cy="425.9" rx="2.75" ry="2.5" fill="#5a2d8c"/>
<ellipse class="p" cx="275.1" cy="423.4" rx="2.75" ry="2.5" fill="#5a2d8c"/>
<ellipse class="p" cx="276.2" cy="424.8" rx="2.75" ry="2.5" fill="#5a2d8c"/>
<ellipse class="p" cx="277.3" cy="422.6" rx="2.75" ry="2.5" fill="#5a2d8c"/>
<ellipse class="p" cx="282.9" cy="426.8" rx="2.75" ry="2.5" fill="#5a2d8c"/>
<ellipse class="p" cx="283.0" cy="425.8" rx="2.75" ry="2.5" fill="#5a2d8c"/>
<ellipse class="p" cx="284.1" cy="411.7" rx="2.75" ry="2.5" fill="#5a2d8c"/>
<ellipse class="p" cx="284.5" cy="412.8" rx="2.75" ry="2.5" fill="#5a2d8c"/>
<ellipse class="p" cx="284.6" cy="424.7" rx="2.75" ry="2.5" fill="#5a2d8c"/>
<ellipse class="p" cx="285.2" cy="419.6" rx="2.75" ry="2.5" fill="#5a2d8c"/>
<ellipse class="p" cx="286.1" cy="419.4" rx="2.75" ry="2.5" fill="#5a2d8c"/>
<ellipse class="p" cx="286.1" cy="417.1" rx="2.75" ry="2.5" fill="#5a2d8c"/>
<ellipse class="p" cx="286.7" cy="418.2" rx="2.75" ry="2.5" fill="#5a2d8c"/>
<ellipse class="p" cx="286.8" cy="418.2" rx="2.75" ry="2.5" fill="#5a2d8c"/>
<ellipse class="p" cx="288.1" cy="422.0" rx="2.75" ry="2.5" fill="#5a2d8c"/>
<ellipse class="p" cx="288.1" cy="419.0" rx="2.75" ry="2.5" fill="#5a2d8c"/>
<ellipse class="p" cx="288.7" cy="412.0" rx="2.75" ry="2.5" fill="#5a2d8c"/>
<ellipse class="p" cx="290.2" cy="419.9" rx="2.75" ry="2.5" fill="#5a2d8c"/>
<ellipse class="p" cx="290.7" cy="415.4" rx="2.75" ry="2.5" fill="#5a2d8c"/>
<ellipse class="p" cx="291.9" cy="415.7" rx="2.75" ry="2.5" fill="#5a2d8c"/>
<ellipse class="p" cx="293.1" cy="410.7" rx="2.75" ry="2.5" fill="#5a2d8c"/>
<ellipse class="p" cx="293.3" cy="412.7" rx="2.75" ry="2.5" fill="#5a2d8c"/>
<ellipse class="p" cx="293.4" cy="415.6" rx="2.75" ry="2.5" fill="#5a2d8c"/>
<ellipse class="p" cx="294.0" cy="420.6" rx="2.75" ry="2.5" fill="#5a2d8c"/>
<ellipse class="p" cx="295.2" cy="411.4" rx="2.75" ry="2.5" fill="#5a2d8c"/>
<ellipse class="p" cx="295.6" cy="413.5" rx="2.75" ry="2.5" fill="#5a2d8c"/>
<ellipse class="p" cx="295.8" cy="418.0" rx="2.75" ry="2.5" fill="#5a2d8c"/>
<ellipse class="p" cx="295.9" cy="424.0" rx="2.75" ry="2.5" fill="#5a2d8c"/>
<ellipse class="p" cx="296.2" cy="407.5" rx="2.75" ry="2.5" fill="#5a2d8c"/>
<ellipse class="p" cx="296.5" cy="419.3" rx="2.75" ry="2.5" fill="#5a2d8c"/>
<ellipse class="p" cx="296.8" cy="417.0" rx="2.75" ry="2.5" fill="#5a2d8c"/>
<ellipse class="p" cx="297.0" cy="418.1" rx="2.75" ry="2.5" fill="#5a2d8c"/>
<ellipse class="p" cx="297.8" cy="415.0" rx="2.75" ry="2.5" fill="#5a2d8c"/>
<ellipse class="p" cx="299.4" cy="417.2" rx="2.75" ry="2.5" fill="#5a2d8c"/>
<ellipse class="p" cx="299.6" cy="409.7" rx="2.75" ry="2.5" fill="#5a2d8c"/>
<ellipse class="p" cx="300.0" cy="416.5" rx="2.75" ry="2.5" fill="#5a2d8c"/>
<ellipse class="p" cx="300.5" cy="418.7" rx="2.75" ry="2.5" fill="#5a2d8c"/>
<ellipse class="p" cx="301.1" cy="416.5" rx="2.75" ry="2.5" fill="#5a2d8c"/>
<ellipse class="p" cx="301.2" cy="410.6" rx="2.75" ry="2.5" fill="#5a2d8c"/>
<ellipse class="p" cx="301.4" cy="415.6" rx="2.75" ry="2.5" fill="#5a2d8c"/>
<ellipse class="p" cx="302.7" cy="420.8" rx="2.75" ry="2.5" fill="#5a2d8c"/>
<ellipse class="p" cx="303.0" cy="418.1" rx="2.75" ry="2.5" fill="#5a2d8c"/>
<ellipse class="p" cx="303.5" cy="418.8" rx="2.75" ry="2.5" fill="#5a2d8c"/>
<ellipse class="p" cx="304.9" cy="419.3" rx="2.75" ry="2.5" fill="#5a2d8c"/>
<ellipse class="p" cx="305.2" cy="411.7" rx="2.75" ry="2.5" fill="#5a2d8c"/>
<ellipse class="p" cx="306.1" cy="411.7" rx="2.75" ry="2.5" fill="#5a2d8c"/>
<ellipse class="p" cx="307.9" cy="420.3" rx="2.75" ry="2.5" fill="#5a2d8c"/>
<ellipse class="p" cx="308.2" cy="415.6" rx="2.75" ry="2.5" fill="#5a2d8c"/>
<ellipse class="p" cx="309.6" cy="410.9" rx="2.75" ry="2.5" fill="#5a2d8c"/>
<ellipse class="p" cx="309.7" cy="418.9" rx="2.75" ry="2.5" fill="#5a2d8c"/>
<ellipse class="p" cx="312.0" cy="409.4" rx="2.75" ry="2.5" fill="#5a2d8c"/>
<ellipse class="p" cx="312.3" cy="407.1" rx="2.75" ry="2.5" fill="#5a2d8c"/>
<ellipse class="p" cx="312.9" cy="409.9" rx="2.75" ry="2.5" fill="#5a2d8c"/>
<ellipse class="p" cx="313.2" cy="401.8" rx="2.75" ry="2.5" fill="#5a2d8c"/>
<ellipse class="p" cx="313.6" cy="408.7" rx="2.75" ry="2.5" fill="#5a2d8c"/>
<ellipse class="p" cx="313.9" cy="407.1" rx="2.75" ry="2.5" fill="#5a2d8c"/>
<ellipse class="p" cx="314.0" cy="417.5" rx="2.75" ry="2.5" fill="#5a2d8c"/>
<ellipse class="p" cx="314.1" cy="403.6" rx="2.75" ry="2.5" fill="#5a2d8c"/>
<ellipse class="p" cx="314.2" cy="413.0" rx="2.75" ry="2.5" fill="#5a2d8c"/>
<ellipse class="p" cx="314.3" cy="412.9" rx="2.75" ry="2.5" fill="#5a2d8c"/>
<ellipse class="p" cx="315.6" cy="408.2" rx="2.75" ry="2.5" fill="#5a2d8c"/>
<ellipse class="p" cx="316.0" cy="417.2" rx="2.75" ry="2.5" fill="#5a2d8c"/>
<ellipse class="p" cx="316.5" cy="411.6" rx="2.75" ry="2.5" fill="#5a2d8c"/>
<ellipse class="p" cx="316.6" cy="404.1" rx="2.75" ry="2.5" fill="#5a2d8c"/>
<ellipse class="p" cx="318.0" cy="411.0" rx="2.75" ry="2.5" fill="#5a2d8c"/>
<ellipse class="p" cx="319.8" cy="406.5" rx="2.75" ry="2.5" fill="#5a2d8c"/>
<ellipse class="p" cx="320.2" cy="404.2" rx="2.75" ry="2.5" fill="#5a2d8c"/>
<ellipse class="p" cx="320.3" cy="400.3" rx="2.75" ry="2.5" fill="#5a2d8c"/>
<ellipse class="p" cx="320.4" cy="411.8" rx="2.75" ry="2.5" fill="#5a2d8c"/>
<ellipse class="p" cx="320.5" cy="401.2" rx="2.75" ry="2.5" fill="#5a2d8c"/>
<ellipse class="p" cx="320.5" cy="405.5" rx="2.75" ry="2.5" fill="#5a2d8c"/>
<ellipse class="p" cx="320.7" cy="407.9" rx="2.75" ry="2.5" fill="#5a2d8c"/>
<ellipse class="p" cx="320.8" cy="403.2" rx="2.75" ry="2.5" fill="#5a2d8c"/>
<ellipse class="p" cx="321.5" cy="409.4" rx="2.75" ry="2.5" fill="#5a2d8c"/>
<ellipse class="p" cx="322.8" cy="409.5" rx="2.75" ry="2.5" fill="#5a2d8c"/>
<ellipse class="p" cx="323.2" cy="400.7" rx="2.75" ry="2.5" fill="#5a2d8c"/>
<ellipse class="p" cx="323.5" cy="401.6" rx="2.75" ry="2.5" fill="#5a2d8c"/>
<ellipse class="p" cx="324.2" cy="405.8" rx="2.75" ry="2.5" fill="#5a2d8c"/>
<ellipse class="p" cx="324.7" cy="404.6" rx="2.75" ry="2.5" fill="#5a2d8c"/>
<ellipse class="p" cx="326.5" cy="405.5" rx="2.75" ry="2.5" fill="#5a2d8c"/>
<ellipse class="p" cx="326.5" cy="399.7" rx="2.75" ry="2.5" fill="#5a2d8c"/>
<ellipse class="p" cx="327.5" cy="406.6" rx="2.75" ry="2.5" fill="#5a2d8c"/>
<ellipse class="p" cx="330.6" cy="400.7" rx="2.75" ry="2.5" fill="#5a2d8c"/>
<ellipse class="p" cx="331.4" cy="406.4" rx="2.75" ry="2.5" fill="#5a2d8c"/>
<ellipse class="p" cx="331.7" cy="407.4" rx="2.75" ry="2.5" fill="#5a2d8c"/>
<ellipse class="p" cx="332.0" cy="403.1" rx="2.75" ry="2.5" fill="#5a2d8c"/>
<ellipse class="p" cx="332.2" cy="395.3" rx="2.75" ry="2.5" fill="#5a2d8c"/>
<ellipse class="p" cx="332.2" cy="402.4" rx="2.75" ry="2.5" fill="#5a2d8c"/>
<ellipse class="p" cx="333.7" cy="398.9" rx="2.75" ry="2.5" fill="#5a2d8c"/>
<ellipse class="p" cx="334.0" cy="402.0" rx="2.75" ry="2.5" fill="#5a2d8c"/>
<ellipse class="p" cx="334.7" cy="405.5" rx="2.75" ry="2.5" fill="#5a2d8c"/>
<ellipse class="p" cx="336.4" cy="396.3" rx="2.75" ry="2.5" fill="#5a2d8c"/>
<ellipse class="p" cx="336.4" cy="404.0" rx="2.75" ry="2.5" fill="#5a2d8c"/>
<ellipse class="p" cx="337.9" cy="402.6" rx="2.75" ry="2.5" fill="#5a2d8c"/>
<ellipse class="p" cx="339.6" cy="394.8" rx="2.75" ry="2.5" fill="#5a2d8c"/>
<ellipse class="p" cx="341.8" cy="395.1" rx="2.75" ry="2.5" fill="#5a2d8c"/>
<ellipse class="p" cx="342.7" cy="393.4" rx="2.75" ry="2.5" fill="#5a2d8c"/>
<ellipse class="p" cx="343.7" cy="402.9" rx="2.75" ry="2.5" fill="#5a2d8c"/>
<ellipse class="p" cx="343.8" cy="392.0" rx="2.75" ry="2.5" fill="#5a2d8c"/>
<ellipse class="p" cx="344.6" cy="395.4" rx="2.75" ry="2.5" fill="#5a2d8c"/>
<ellipse class="p" cx="344.9" cy="401.7" rx="2.75" ry="2.5" fill="#5a2d8c"/>
<ellipse class="p" cx="346.5" cy="398.2" rx="2.75" ry="2.5" fill="#5a2d8c"/>
<ellipse class="p" cx="262.7" cy="432.9" rx="2.75" ry="2.5" fill="#5a2d8c"/>
<ellipse class="p" cx="261.3" cy="437.3" rx="2.75" ry="2.5" fill="#5a2d8c"/>
<ellipse class="p" cx="268.5" cy="432.2" rx="2.75" ry="2.5" fill="#5a2d8c"/>
<ellipse class="p" cx="269.2" cy="435.1" rx="2.75" ry="2.5" fill="#5a2d8c"/>
<ellipse class="p" cx="273.5" cy="430.8" rx="2.75" ry="2.5" fill="#5a2d8c"/>
<ellipse class="p" cx="277.9" cy="430.1" rx="2.75" ry="2.5" fill="#5a2d8c"/>
<ellipse class="p" cx="275.0" cy="432.9" rx="2.75" ry="2.5" fill="#5a2d8c"/>
<ellipse class="p" cx="270.6" cy="427.2" rx="2.75" ry="2.5" fill="#5a2d8c"/>
<ellipse class="p" cx="276.4" cy="426.4" rx="2.75" ry="2.5" fill="#5a2d8c"/>
<ellipse class="p" cx="282.2" cy="427.2" rx="2.75" ry="2.5" fill="#5a2d8c"/>
<ellipse class="p" cx="282.9" cy="404.5" rx="2.75" ry="2.5" fill="#5a2d8c"/>
<ellipse class="p" cx="288.7" cy="403.8" rx="2.75" ry="2.5" fill="#5a2d8c"/>
<ellipse class="p" cx="280.5" cy="418.3" rx="2.75" ry="2.5" fill="#5a2d8c"/>
<ellipse class="p" cx="337.8" cy="413.2" rx="2.75" ry="2.5" fill="#5a2d8c"/>
<ellipse class="p" cx="317.3" cy="424.8" rx="2.75" ry="2.5" fill="#5a2d8c"/>
<ellipse class="p" cx="321.2" cy="425.9" rx="2.75" ry="2.5" fill="#5a2d8c"/>
<ellipse class="p" cx="354.4" cy="395.6" rx="2.75" ry="2.5" fill="#5a2d8c"/>
<ellipse class="p" cx="358.0" cy="409.6" rx="2.75" ry="2.5" fill="#5a2d8c"/>
<ellipse class="p" cx="358.7" cy="399.5" rx="2.75" ry="2.5" fill="#5a2d8c"/>
<ellipse class="p" cx="339.2" cy="391.8" rx="2.75" ry="2.5" fill="#5a2d8c"/>
<ellipse class="p" cx="342.8" cy="393.0" rx="2.75" ry="2.5" fill="#5a2d8c"/>
<ellipse class="p" cx="303.8" cy="400.6" rx="2.75" ry="2.5" fill="#5a2d8c"/>
<ellipse class="p" cx="290.1" cy="403.1" rx="2.75" ry="2.5" fill="#5a2d8c"/>
<ellipse class="p" cx="325.5" cy="396.6" rx="2.75" ry="2.5" fill="#5a2d8c"/>
<ellipse class="p" cx="332.0" cy="395.6" rx="2.75" ry="2.5" fill="#5a2d8c"/>
<ellipse class="p" cx="397.8" cy="397.0" rx="2.75" ry="2.5" fill="#5a2d8c"/>
<ellipse class="p" cx="383.0" cy="395.3" rx="2.75" ry="2.5" fill="#5a2d8c"/>
<ellipse class="p" cx="379.3" cy="393.8" rx="2.75" ry="2.5" fill="#5a2d8c"/>
<ellipse class="p" cx="365.7" cy="394.8" rx="2.75" ry="2.5" fill="#5a2d8c"/>
<ellipse class="p" cx="354.2" cy="396.0" rx="2.75" ry="2.5" fill="#5a2d8c"/>
<ellipse class="p" cx="360.2" cy="398.4" rx="2.75" ry="2.5" fill="#5a2d8c"/>
<ellipse class="p" cx="358.5" cy="400.3" rx="2.75" ry="2.5" fill="#5a2d8c"/>
<ellipse class="p" cx="371.5" cy="406.5" rx="2.75" ry="2.5" fill="#5a2d8c"/>
<ellipse class="p" cx="357.6" cy="409.3" rx="2.75" ry="2.5" fill="#5a2d8c"/>
<ellipse class="p" cx="349.4" cy="403.5" rx="2.75" ry="2.5" fill="#5a2d8c"/>
<ellipse class="p" cx="352.3" cy="405.4" rx="2.75" ry="2.5" fill="#5a2d8c"/>
<ellipse class="p" cx="346.1" cy="399.6" rx="2.75" ry="2.5" fill="#5a2d8c"/>
<ellipse class="p" cx="342.9" cy="393.1" rx="2.75" ry="2.5" fill="#5a2d8c"/>
<ellipse class="p" cx="342.2" cy="396.7" rx="2.75" ry="2.5" fill="#5a2d8c"/>
<ellipse class="p" cx="340.7" cy="402.9" rx="2.75" ry="2.5" fill="#5a2d8c"/>
<ellipse class="p" cx="340.0" cy="413.3" rx="2.75" ry="2.5" fill="#5a2d8c"/>
<ellipse class="p" cx="260.8" cy="390.1" rx="2.75" ry="2.5" fill="#5a2d8c"/>
<ellipse class="p" cx="233.4" cy="397.0" rx="2.75" ry="2.5" fill="#5a2d8c"/>
<ellipse class="p" cx="237.1" cy="395.6" rx="2.75" ry="2.5" fill="#5a2d8c"/>
<ellipse class="p" cx="239.3" cy="398.8" rx="2.75" ry="2.5" fill="#5a2d8c"/>
<ellipse class="p" cx="233.4" cy="419.0" rx="2.75" ry="2.5" fill="#5a2d8c"/>
<ellipse class="p" cx="233.4" cy="419.5" rx="2.75" ry="2.5" fill="#5a2d8c"/>
</g>
<ellipse cx="21.7" cy="595.6" rx="2.8" ry="2.4" fill="#2a6fc9"/>
<text x="30.5" y="598.7" font-size="11.2" font-family="'DejaVu Serif','Liberation Serif',serif" text-anchor="start" fill="#222" letter-spacing="0.3">CAR</text>
<ellipse cx="89.4" cy="595.6" rx="2.8" ry="2.4" fill="#e8283e"/>
<text x="98.2" y="598.7" font-size="11.2" font-family="'DejaVu Serif','Liberation Serif',serif" text-anchor="start" fill="#222" letter-spacing="0.3">CDPDG</text>
<ellipse cx="157.1" cy="595.6" rx="2.8" ry="2.4" fill="#7ac231"/>
<text x="165.9" y="598.7" font-size="11.2" font-family="'DejaVu Serif','Liberation Serif',serif" text-anchor="start" fill="#222" letter-spacing="0.3">CE</text>
<ellipse cx="224.8" cy="595.6" rx="2.8" ry="2.4" fill="#9a4fc4"/>
<text x="233.6" y="598.7" font-size="11.2" font-family="'DejaVu Serif','Liberation Serif',serif" text-anchor="start" fill="#222" letter-spacing="0.3">CER</text>
<ellipse cx="292.5" cy="595.6" rx="2.8" ry="2.4" fill="#17a5c8"/>
<text x="301.3" y="598.7" font-size="11.2" font-family="'DejaVu Serif','Liberation Serif',serif" text-anchor="start" fill="#222" letter-spacing="0.3">CL</text>
<ellipse cx="360.2" cy="595.6" rx="2.8" ry="2.4" fill="#f47b20"/>
<text x="369.0" y="598.7" font-size="11.2" font-family="'DejaVu Serif','Liberation Serif',serif" text-anchor="start" fill="#222" letter-spacing="0.3">CoA</text>
<ellipse cx="427.9" cy="595.6" rx="2.8" ry="2.4" fill="#f5ea1a"/>
<text x="436.7" y="598.7" font-size="11.2" font-family="'DejaVu Serif','Liberation Serif',serif" text-anchor="start" fill="#222" letter-spacing="0.3">DAG</text>
<ellipse cx="495.6" cy="595.6" rx="2.8" ry="2.4" fill="#8a1020"/>
<text x="504.4" y="598.7" font-size="11.2" font-family="'DejaVu Serif','Liberation Serif',serif" text-anchor="start" fill="#222" letter-spacing="0.3">FA</text>
<ellipse cx="21.7" cy="610.6" rx="2.8" ry="2.4" fill="#2f7a1e"/>
<text x="30.5" y="613.7" font-size="11.2" font-family="'DejaVu Serif','Liberation Serif',serif" text-anchor="start" fill="#222" letter-spacing="0.3">HexCer</text>
<ellipse cx="89.4" cy="610.6" rx="2.8" ry="2.4" fill="#47237a"/>
<text x="98.2" y="613.7" font-size="11.2" font-family="'DejaVu Serif','Liberation Serif',serif" text-anchor="start" fill="#222" letter-spacing="0.3">LPA</text>
<ellipse cx="157.1" cy="610.6" rx="2.8" ry="2.4" fill="#1b6a8a"/>
<text x="165.9" y="613.7" font-size="11.2" font-family="'DejaVu Serif','Liberation Serif',serif" text-anchor="start" fill="#222" letter-spacing="0.3">LPC</text>
<ellipse cx="224.8" cy="610.6" rx="2.8" ry="2.4" fill="#e25a1c"/>
<text x="233.6" y="613.7" font-size="11.2" font-family="'DejaVu Serif','Liberation Serif',serif" text-anchor="start" fill="#222" letter-spacing="0.3">LPG</text>
<ellipse cx="292.5" cy="610.6" rx="2.8" ry="2.4" fill="#4a8ad8"/>
<text x="301.3" y="613.7" font-size="11.2" font-family="'DejaVu Serif','Liberation Serif',serif" text-anchor="start" fill="#222" letter-spacing="0.3">LPI</text>
<ellipse cx="360.2" cy="610.6" rx="2.8" ry="2.4" fill="#ea5566"/>
<text x="369.0" y="613.7" font-size="11.2" font-family="'DejaVu Serif','Liberation Serif',serif" text-anchor="start" fill="#222" letter-spacing="0.3">MAG</text>
<ellipse cx="427.9" cy="610.6" rx="2.8" ry="2.4" fill="#86c94a"/>
<text x="436.7" y="613.7" font-size="11.2" font-family="'DejaVu Serif','Liberation Serif',serif" text-anchor="start" fill="#222" letter-spacing="0.3">PA</text>
<ellipse cx="495.6" cy="610.6" rx="2.8" ry="2.4" fill="#a35fc6"/>
<text x="504.4" y="613.7" font-size="11.2" font-family="'DejaVu Serif','Liberation Serif',serif" text-anchor="start" fill="#222" letter-spacing="0.3">PC</text>
<ellipse cx="21.7" cy="625.5" rx="2.8" ry="2.4" fill="#2bb8d8"/>
<text x="30.5" y="628.6" font-size="11.2" font-family="'DejaVu Serif','Liberation Serif',serif" text-anchor="start" fill="#222" letter-spacing="0.3">PE</text>
<ellipse cx="89.4" cy="625.5" rx="2.8" ry="2.4" fill="#f68b3c"/>
<text x="98.2" y="628.6" font-size="11.2" font-family="'DejaVu Serif','Liberation Serif',serif" text-anchor="start" fill="#222" letter-spacing="0.3">PG</text>
<ellipse cx="157.1" cy="625.5" rx="2.8" ry="2.4" fill="#1f5fae"/>
<text x="165.9" y="628.6" font-size="11.2" font-family="'DejaVu Serif','Liberation Serif',serif" text-anchor="start" fill="#222" letter-spacing="0.3">PI</text>
<ellipse cx="224.8" cy="625.5" rx="2.8" ry="2.4" fill="#b81e2c"/>
<text x="233.6" y="628.6" font-size="11.2" font-family="'DejaVu Serif','Liberation Serif',serif" text-anchor="start" fill="#222" letter-spacing="0.3">PS</text>
<ellipse cx="292.5" cy="625.5" rx="2.8" ry="2.4" fill="#3f9a1e"/>
<text x="301.3" y="628.6" font-size="11.2" font-family="'DejaVu Serif','Liberation Serif',serif" text-anchor="start" fill="#222" letter-spacing="0.3">SM</text>
<ellipse cx="360.2" cy="625.5" rx="2.8" ry="2.4" fill="#5b2d90"/>
<text x="369.0" y="628.6" font-size="11.2" font-family="'DejaVu Serif','Liberation Serif',serif" text-anchor="start" fill="#222" letter-spacing="0.3">TAG</text>
</g>
<g id="panelC">
<rect x="77.7" y="840" width="324.6" height="34.8" fill="#fbfbfb"/>
<text x="22.6" y="660.1" font-size="18.2" font-family="'Liberation Serif','DejaVu Serif',serif" text-anchor="start" fill="#111" >C</text>
<rect x="113.5" y="747.2" width="43.2" height="84.1" fill="#2d45a8" stroke="#1a1a1a" stroke-width="1"/>
<rect x="219.4" y="672.4" width="42.5" height="158.9" fill="#2d45a8" stroke="#1a1a1a" stroke-width="1"/>
<rect x="326.4" y="739.4" width="42.2" height="91.9" fill="#2d45a8" stroke="#1a1a1a" stroke-width="1"/>
<rect x="432.4" y="751.6" width="42.4" height="34.7" fill="#fff" stroke="#1a1a1a" stroke-width="1"/>
<rect x="432.4" y="786.3" width="42.4" height="45.0" fill="#2d45a8" stroke="#1a1a1a" stroke-width="1"/>
<path d="M81.4 659.0V831.3" fill="none" stroke="#222" stroke-width="1.2"/>
<path d="M77.3 831.3H507" fill="none" stroke="#222" stroke-width="1.2"/>
<path d="M77.3 659.60H81.4" stroke="#222" stroke-width="1.1"/>
<text x="68.9" y="663.5" font-size="10.8" font-family="'DejaVu Serif','Liberation Serif',serif" text-anchor="end" fill="#333" textLength="23.5" lengthAdjust="spacingAndGlyphs" >450</text>
<path d="M77.3 678.68H81.4" stroke="#222" stroke-width="1.1"/>
<text x="68.9" y="682.6" font-size="10.8" font-family="'DejaVu Serif','Liberation Serif',serif" text-anchor="end" fill="#333" textLength="23.5" lengthAdjust="spacingAndGlyphs" >400</text>
<path d="M77.3 697.76H81.4" stroke="#222" stroke-width="1.1"/>
<text x="68.9" y="701.7" font-size="10.8" font-family="'DejaVu Serif','Liberation Serif',serif" text-anchor="end" fill="#333" textLength="23.5" lengthAdjust="spacingAndGlyphs" >350</text>
<path d="M77.3 716.83H81.4" stroke="#222" stroke-width="1.1"/>
<text x="68.9" y="720.7" font-size="10.8" font-family="'DejaVu Serif','Liberation Serif',serif" text-anchor="end" fill="#333" textLength="23.5" lengthAdjust="spacingAndGlyphs" >300</text>
<path d="M77.3 735.91H81.4" stroke="#222" stroke-width="1.1"/>
<text x="68.9" y="739.8" font-size="10.8" font-family="'DejaVu Serif','Liberation Serif',serif" text-anchor="end" fill="#333" textLength="23.5" lengthAdjust="spacingAndGlyphs" >250</text>
<path d="M77.3 754.99H81.4" stroke="#222" stroke-width="1.1"/>
<text x="68.9" y="758.9" font-size="10.8" font-family="'DejaVu Serif','Liberation Serif',serif" text-anchor="end" fill="#333" textLength="23.5" lengthAdjust="spacingAndGlyphs" >200</text>
<path d="M77.3 774.07H81.4" stroke="#222" stroke-width="1.1"/>
<text x="68.9" y="778.0" font-size="10.8" font-family="'DejaVu Serif','Liberation Serif',serif" text-anchor="end" fill="#333" textLength="23.5" lengthAdjust="spacingAndGlyphs" >150</text>
<path d="M77.3 793.14H81.4" stroke="#222" stroke-width="1.1"/>
<text x="68.9" y="797.0" font-size="10.8" font-family="'DejaVu Serif','Liberation Serif',serif" text-anchor="end" fill="#333" textLength="23.5" lengthAdjust="spacingAndGlyphs" >100</text>
<path d="M77.3 812.22H81.4" stroke="#222" stroke-width="1.1"/>
<text x="68.9" y="816.1" font-size="10.8" font-family="'DejaVu Serif','Liberation Serif',serif" text-anchor="end" fill="#333" textLength="15.8" lengthAdjust="spacingAndGlyphs" >50</text>
<text x="68.9" y="835.2" font-size="10.8" font-family="'DejaVu Serif','Liberation Serif',serif" text-anchor="end" fill="#333" textLength="8.6" lengthAdjust="spacingAndGlyphs" >0</text>
<text x="0" y="0" font-size="13" font-family="'Liberation Serif','DejaVu Serif',serif" text-anchor="middle" fill="#111" font-weight="bold" textLength="87.6" lengthAdjust="spacingAndGlyphs" transform="translate(38.1,745.5) rotate(-90)">Identified lipids</text>
<text x="123.5" y="853.2" font-size="11.3" font-family="'DejaVu Serif','Liberation Serif',serif" text-anchor="start" fill="#222" textLength="29.6" lengthAdjust="spacingAndGlyphs" >IPSC</text>
<text x="118.0" y="867.6" font-size="11.3" font-family="'DejaVu Serif','Liberation Serif',serif" text-anchor="start" fill="#222" textLength="43.4" lengthAdjust="spacingAndGlyphs" >MS/MS</text>
<text x="237.9" y="853.2" font-size="11.3" font-family="'DejaVu Serif','Liberation Serif',serif" text-anchor="start" fill="#222" textLength="46.2" lengthAdjust="spacingAndGlyphs" >WM115</text>
<text x="241.5" y="867.6" font-size="11.3" font-family="'DejaVu Serif','Liberation Serif',serif" text-anchor="start" fill="#222" textLength="42.6" lengthAdjust="spacingAndGlyphs" >MS/MS</text>
<text x="342.4" y="853.2" font-size="11.3" font-family="'DejaVu Serif','Liberation Serif',serif" text-anchor="start" fill="#222" textLength="26.3" lengthAdjust="spacingAndGlyphs" >MEF</text>
<text x="336.2" y="867.6" font-size="11.3" font-family="'DejaVu Serif','Liberation Serif',serif" text-anchor="start" fill="#222" textLength="43.4" lengthAdjust="spacingAndGlyphs" >MS/MS</text>
<text x="410.3" y="853.2" font-size="11.3" font-family="'DejaVu Serif','Liberation Serif',serif" text-anchor="start" fill="#222" textLength="98.5" lengthAdjust="spacingAndGlyphs" >Anal Chim Acta</text>
<text x="444.5" y="867.6" font-size="11.3" font-family="'DejaVu Serif','Liberation Serif',serif" text-anchor="start" fill="#222" textLength="28.9" lengthAdjust="spacingAndGlyphs" >2020</text>
<rect x="375.4" y="672.2" width="8.4" height="6.8" fill="#2d45a8" stroke="#1a1a1a" stroke-width="1"/>
<rect x="375.4" y="687.4" width="8.4" height="6.6" fill="#fff" stroke="#1a1a1a" stroke-width="1"/>
<text x="388.1" y="679.0" font-size="11.4" font-family="'DejaVu Serif','Liberation Serif',serif" text-anchor="start" fill="#222" textLength="47.8" lengthAdjust="spacingAndGlyphs" >Positive</text>
<text x="388.1" y="694.3" font-size="11.4" font-family="'DejaVu Serif','Liberation Serif',serif" text-anchor="start" fill="#222" textLength="52.4" lengthAdjust="spacingAndGlyphs" >Negative</text>
</g>
</svg>
</body></html>
